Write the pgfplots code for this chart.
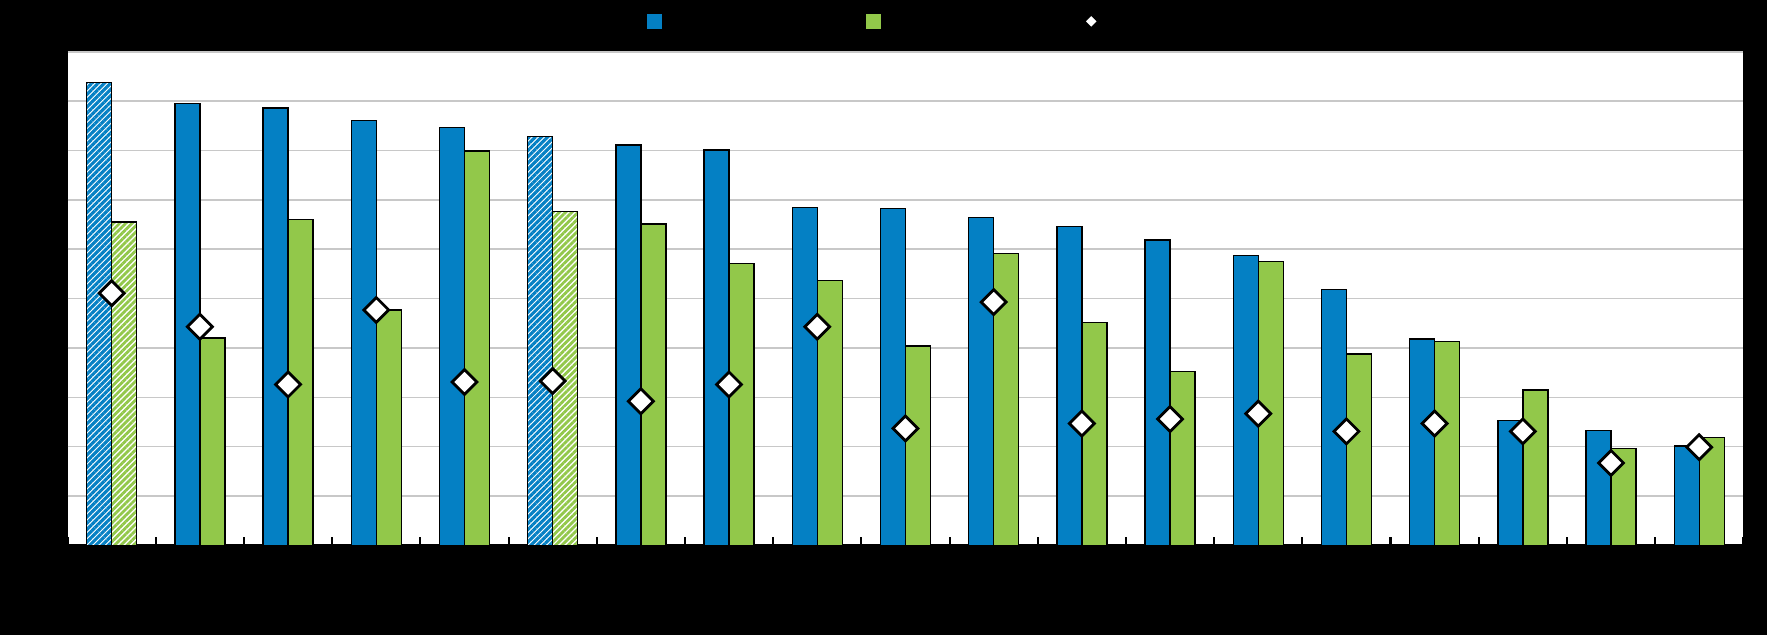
\documentclass[border=0pt]{standalone}
\usepackage{pgfplots}
\pgfplotsset{compat=1.18}
\usetikzlibrary{patterns.meta,backgrounds}
\definecolor{cblue}{RGB}{4,128,196}
\definecolor{cgreen}{RGB}{146,200,74}
\definecolor{cgrid}{RGB}{200,200,200}
\begin{document}
\begin{tikzpicture}
\begin{axis}[
  scale only axis, width=16.757cm, height=4.936cm,
  xmin=-0.5, xmax=18.5, ymin=0, ymax=100,
  enlargelimits=false,
  axis background/.style={fill=white},
  axis x line*=bottom, axis y line*=left,
  x axis line style={black, line width=0.6pt},
  y axis line style={draw=none},
  xtick={-0.5,0.5,...,18.5}, xticklabels={},
  tick align=inside, major tick length=0.8mm,
  xtick style={black, line width=0.6pt},
  ytick={10,20,...,100}, yticklabels={}, ytick style={draw=none},
  ymajorgrids, grid style={cgrid, line width=0.45pt},
  clip=false,
  legend style={at={(axis description cs:0.339,1.0616)}, anchor=west,
    draw=none, fill=none, text=black, legend columns=3,
    /tikz/every even column/.append style={column sep=1.9cm}},
]
\coordinate (sw) at (rel axis cs:0,0);
\coordinate (ne) at (rel axis cs:1,1);
% solid blue
\addplot[ybar, bar width=2.5mm, bar shift=-1.25mm, fill=cblue, draw=black, line width=0.4pt,
  legend image code/.code={\fill[cblue] (0cm,-0.068cm) rectangle (0.135cm,0.068cm);}]
coordinates {(1,89.5) (2,88.6) (3,86.1) (4,84.7) (6,81.1) (7,80.1) (8,68.5) (9,68.3) (10,66.4) (11,64.6) (12,61.9) (13,58.7) (14,51.8) (15,41.8) (16,25.3) (17,23.3) (18,20.1)};
\addlegendentry{}
% solid green
\addplot[ybar, bar width=2.5mm, bar shift=1.25mm, fill=cgreen, draw=black, line width=0.4pt,
  legend image code/.code={\fill[cgreen] (0cm,-0.068cm) rectangle (0.135cm,0.068cm);}]
coordinates {(1,42.0) (2,66.0) (3,47.7) (4,79.9) (6,65.1) (7,57.1) (8,53.7) (9,40.4) (10,59.1) (11,45.2) (12,35.2) (13,57.5) (14,38.8) (15,41.3) (16,31.5) (17,19.6) (18,21.9)};
\addlegendentry{}
% hatched blue
\addplot[ybar, forget plot, bar width=2.5mm, bar shift=-1.25mm, fill=white, draw=black, line width=0.4pt,
  postaction={pattern={Lines[angle=45,distance=1.25pt,line width=0.9pt]}, pattern color=cblue}]
coordinates {(0,93.8) (5,82.9)};
% hatched green
\addplot[ybar, forget plot, bar width=2.5mm, bar shift=1.25mm, fill=white, draw=black, line width=0.4pt,
  postaction={pattern={Lines[angle=45,distance=1.25pt,line width=0.8pt]}, pattern color=cgreen}]
coordinates {(0,65.5) (5,67.6)};
% diamonds
\addplot[only marks, mark=square*, mark size=2.5pt,
  mark options={rotate=45, fill=white, draw=black, line width=0.8pt},
  legend image code/.code={\draw[only marks, mark=square*, mark size=1.3pt, mark options={rotate=45, fill=white, draw=black, line width=0.4pt}] plot coordinates {(0.07cm,0cm)};}]
coordinates {(0,51.1) (1,44.3) (2,32.6) (3,47.7) (4,33.1) (5,33.3) (6,29.2) (7,32.6) (8,44.3) (9,23.7) (10,49.3) (11,24.7) (12,25.6) (13,26.7) (14,23.1) (15,24.7) (16,23.1) (17,16.7) (18,19.9)};
\addlegendentry{}
\end{axis}
\begin{scope}[on background layer]
\fill[black] ([xshift=-0.676cm,yshift=-0.896cm]sw) rectangle ([xshift=0.237cm,yshift=0.518cm]ne);
\end{scope}
\pgfresetboundingbox
\useasboundingbox ([xshift=-0.676cm,yshift=-0.896cm]sw) rectangle ([xshift=0.237cm,yshift=0.518cm]ne);
\end{tikzpicture}
\end{document}
